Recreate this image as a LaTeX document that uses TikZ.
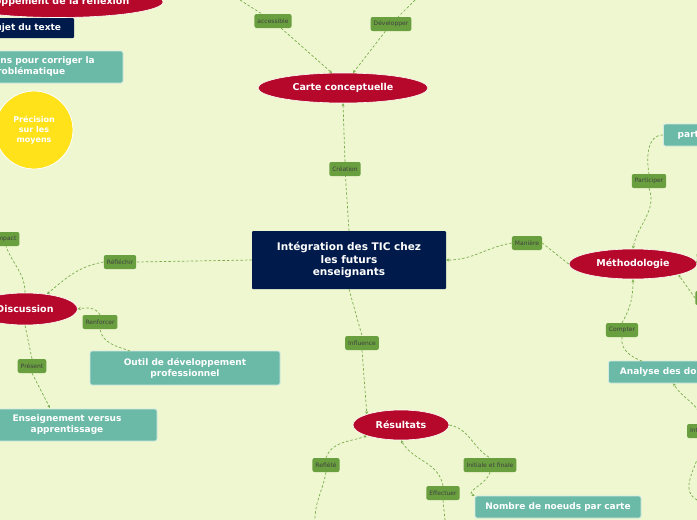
\documentclass[tikz,border=0pt]{standalone}
\usepackage{fontspec}
\setmainfont{DejaVu Sans}
\usetikzlibrary{shapes.geometric,arrows.meta}
\definecolor{bg}{HTML}{EEF7D0}
\definecolor{lab}{HTML}{6A9F3F}
\definecolor{edg}{HTML}{79AD4C}
\definecolor{rd}{HTML}{B5082B}
\definecolor{nv}{HTML}{001A4B}
\definecolor{tl}{HTML}{6BBAA7}
\definecolor{yl}{HTML}{FFE21A}
\tikzset{
  lbl/.style={fill=lab,rounded corners=2pt,font=\fontsize{6}{7}\selectfont,text=black!75,inner sep=3pt,minimum height=14pt},
  ell/.style={ellipse,fill=rd,draw=white,line width=0.6pt,text=white,font=\bfseries\fontsize{9.5}{11}\selectfont,inner sep=0pt},
  tbox/.style={fill=tl,draw=white!70!tl,line width=0.8pt,rounded corners=2pt,text=white,font=\bfseries\fontsize{9}{11}\selectfont,align=center},
  nbox/.style={fill=nv,rounded corners=1pt,text=white,font=\bfseries\fontsize{9}{11}\selectfont,align=center},
  con/.style={edg,line width=0.7pt,dash pattern=on 2.5pt off 2pt,-{Stealth[length=3pt,width=3pt]}},
  pl/.style={edg,line width=0.7pt,dash pattern=on 2.5pt off 2pt}
}
\begin{document}
\begin{tikzpicture}[x=1pt,y=-1pt]
\useasboundingbox (0,0) rectangle (697,520);
\clip (0,0) rectangle (697,520);
\fill[bg] (0,0) rectangle (697,520);
% nodes
\node[ell,minimum width=210pt,minimum height=31pt] (dev) at (58,2) {\hspace*{-22pt}Développement de la réflexion};
\node[nbox,minimum width=110pt,minimum height=20pt] (suj) at (19,28) {\hspace*{12pt}Sujet du texte};
\node[tbox,minimum width=190pt,minimum height=32pt] (moy) at (28,67) {\hspace*{12pt}Moyens pour corriger la\\ problématique};
\node[circle,fill=yl,draw=white,line width=0.8pt,minimum size=78pt,text=white,font=\bfseries\fontsize{8}{10}\selectfont,align=center] (pre) at (34,130) {Précision\\sur les\\moyens};
\node[ell,minimum width=170pt,minimum height=30pt] (cc) at (343,88) {Carte conceptuelle};
\node[nbox,minimum width=194pt,minimum height=58pt,font=\bfseries\fontsize{10.5}{12.5}\selectfont] (c) at (349,260) {Intégration des TIC chez\\les futurs\\enseignants};
\node[ell,minimum width=105pt,minimum height=32pt] (dis) at (25,309) {Discussion};
\node[ell,minimum width=96pt,minimum height=30pt] (res) at (401,425) {Résultats};
\node[ell,minimum width=128pt,minimum height=30pt] (met) at (633,264) {Méthodologie};
\node[tbox,minimum width=190pt,minimum height=34pt] (out) at (185,368) {Outil de développement\\professionnel};
\node[tbox,minimum width=180pt,minimum height=32pt] (ens) at (67,425) {Enseignement versus\\apprentissage};
\node[tbox,minimum width=166pt,minimum height=22pt] (nom) at (558,507) {Nombre de noeuds par carte};
\node[tbox,minimum width=90pt,minimum height=22pt,anchor=west] (par) at (663,135) {participants};
\node[tbox,minimum width=130pt,minimum height=22pt,anchor=west] (ana) at (608,372) {Analyse des données};
% labels
\node[lbl] (acc) at (273,21) {accessible};
\node[lbl] (dvl) at (391,24) {Développer};
\node[lbl] (cre) at (345,169) {Création};
\node[lbl] (ref) at (120,262) {Réfléchir};
\node[lbl] (imp) at (6,239) {Impact};
\node[lbl] (renf) at (100,322) {Renforcer};
\node[lbl] (pres) at (32,366) {Présent};
\node[lbl] (inf) at (362,343) {Influence};
\node[lbl] (refl) at (326,465) {Reflété};
\node[lbl] (eff) at (443,493) {Effectuer};
\node[lbl] (ini) at (490,465) {Initiale et finale};
\node[lbl] (man) at (527,243) {Manière};
\node[lbl] (parl) at (649,181) {Participer};
\node[lbl] (com) at (622,330) {Compter};
\node[lbl] (intg) at (702,431) {Intégrer};
\node[lbl] (el) at (708,298) {Établir};
\coordinate (t1) at (240,0);
\coordinate (t2) at (415,0);
\coordinate (r1) at (697,254);
\coordinate (r2) at (697,500);
\coordinate (ccA) at (332,73);
\coordinate (ccB) at (353,73);
\coordinate (disA) at (47,294);
\coordinate (outA) at (130,351);
\coordinate (ensA) at (50,408);
\coordinate (anaA) at (642,361);
\coordinate (b1) at (315,520);
\coordinate (b2) at (445,520);
% connectors
\draw[pl] (t1) -- (acc);
\draw[con] (acc) -- (ccA);
\draw[pl] (t2) -- (dvl);
\draw[con] (dvl) -- (ccB);
\draw[pl] (c.north) -- (cre);
\draw[con] (cre.north) -- (cc.south);
\draw[pl] (c.west) -- (ref.east);
\draw[con] (ref.west) to[out=190,in=40] (disA);
\draw[pl] (dis.north) to[out=90,in=-70] (imp.south);
\draw[pl] (outA) to[out=160,in=-80] (renf.south);
\draw[con] (renf.north) to[out=120,in=10] (dis.east);
\draw[pl] (pres.north) -- (dis.south);
\draw[con] (pres.south) -- (ensA);
\draw[pl] (c.south) -- (inf.north);
\draw[con] (inf.south) -- (res.north west);
\draw[pl] (refl.south) to[out=-100,in=90] (b1);
\draw[con] (refl.north) to[out=70,in=200] (res.south west);
\draw[pl] (eff.south) -- (b2);
\draw[con] (eff.north) to[out=100,in=-60] (res.south);
\draw[pl] (res.east) to[out=-10,in=150] (ini.north);
\draw[con] (ini.south) to[out=-100,in=160] (nom.north west);
\draw[pl] (met.west) -- (man.east);
\draw[con] (man.west) to[out=190,in=0] (c.east);
\draw[pl] (par.west) to[out=180,in=100] (parl.north);
\draw[con] (parl.south) to[out=-70,in=80] (met.north);
\draw[pl] (anaA) to[out=160,in=-100] (com.south);
\draw[con] (com.north) to[out=60,in=-90] (met.south);
\draw[con] (el.west) -- (met.south east);
\draw[con] (r1) -- (met.east);
\draw[pl] (r2) to[out=150,in=-90] (intg.south);
\draw[con] (intg.north) to[out=90,in=-60] (ana.south);
\end{tikzpicture}
\end{document}
